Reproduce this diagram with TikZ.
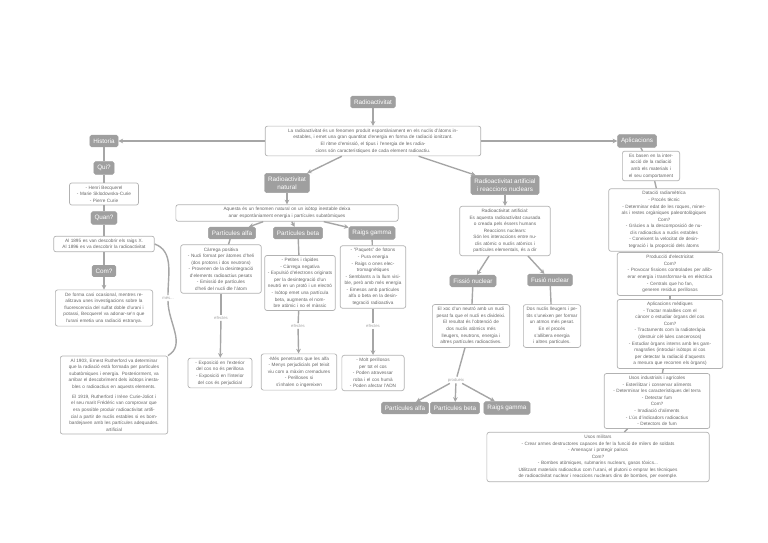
\documentclass[tikz,border=0pt]{standalone}
\usepackage{fontspec}
\setmainfont{Liberation Sans}
\usetikzlibrary{arrows.meta}
\begin{document}
\begin{tikzpicture}[x=0.03cm, y=-0.03cm, align=center,
  concept/.style={fill=gray!75, draw=gray!75, rounded corners=1.5pt, text=white,
    font=\fontsize{5.4}{6.4}\selectfont, inner sep=3pt},
  info/.style={draw=gray!60, fill=white, rounded corners=2pt, line width=.6pt,
    font=\fontsize{4}{5.6}\selectfont, text=gray!80!black, inner sep=2.4pt},
  lbl/.style={font=\fontsize{3.6}{4}\selectfont, text=gray!70, fill=white, inner sep=1pt},
  link/.style={draw=gray!70, line width=1.2pt},
  arr/.style={link, -{Stealth[length=4pt,width=4pt]}}]
\useasboundingbox (0,0) rectangle (768,543);

% Root
\node[concept] (root) at (373,102) {Radioactivitat};
\node[info, text width=6.3cm] (def) at (373,141) {La radioactivitat és un fenomen produït espontàniament en els nuclis d'àtoms
  inestables, i emet una gran quantitat d'energia en forma de radiació ionitzant.\\
  El ritme d'emissió, el tipus i l'energia de les radiacions són característiques de cada element radioactiu.};

% Historia
\node[concept] (hist) at (104,141) {Historia};
\node[concept] (qui) at (104,168) {Qui?};
\node[info, text width=1.9cm] (noms) at (104,194) {- Henri Becquerel\\ - Marie Sklodowska-Curie\\ - Pierre Curie};
\node[concept] (quan) at (104,218) {Quan?};
\node[info, text width=2.85cm] (dates) at (104,244) {Al 1895 es van descobrir els raigs X.\\ Al 1896 es va descobrir la radioactivitat};
\node[concept] (com) at (104,271) {Com?};
\node[info, text width=2.75cm] (casual) at (104,308) {De forma casi ocasional, mentres realitzava unes investigacions sobre la fluorescencia del sulfat doble d'urani i potassi, Becquerel va adonar-se'n que l'urani emetia una radiació estranya.};
\node[info, text width=3.05cm] (rutherford) at (114,395) {Al 1903, Ernest Rutherford va determinar que la radiació està formada per partícules subatòmiques i energia. Posteriorment, va arribar el descobriment dels isòtops inestables o radioactius en aquests elements.\\[3pt]
  El 1919, Rutherford i Irène Curie-Joliot i el seu marit Frédéric van comprovar que era possible produir radioactivitat artificial a partir de nuclis estables si es bombardejaven amb les partícules adequades.\\ artificial};
\node[lbl] (mes) at (168,298) {més...};

% Radioactivitat natural
\node[concept] (nat) at (287,183) {Radioactivitat\\ natural};
\node[info, text width=6.5cm] (natdef) at (287,213) {Aquesta és un fenomen natural on un isòtop inestable deixa anar espontàniament energia i partícules subatòmiques};
\node[concept] (alfa) at (232,233) {Partícules alfa};
\node[concept] (beta) at (298,233) {Partícules beta};
\node[concept] (gamma) at (372,233) {Raigs gamma};
\node[info, text width=2.25cm] (alfat) at (221,269) {Càrrega positiva\\ - Nucli format per àtomes d'heli (dos protons i dos neutrons)\\ - Provenen de la desintegració d'elements radioactius pesats\\ - Emissió de partícules d'heli del nucli dle l'àtom};
\node[info, text width=1.95cm] (betat) at (300,283) {- Petites i ràpides\\ - Càrrega negativa\\ - Expulsió d'electrons originats per la desintegració d'un neutró en un protó i un electró\\ - Isòtop emet una partícula beta, augmenta el nombre atòmic i no el màssic};
\node[info, text width=1.8cm] (gammat) at (373,277) {- "Paquets" de fotons\\ - Pura energia\\ - Raigs o ones electromagnètiques\\ - Semblants a la llum visible, però amb més energia\\ - Emesos amb partícules alfa o beta en la desintegració radioactiva};
\node[lbl] (ef1) at (221,318) {efectes};
\node[lbl] (ef2) at (298,326) {efectes};
\node[lbl] (ef3) at (373,326) {efectes};
\node[info, text width=1.75cm] (alfae) at (220,373) {- Exposició en l'exterior del cos no és perillosa\\ - Exposició en l'interior del cos és perjudicial};
\node[info, text width=2.1cm] (betae) at (299,372) {-Més penetrants que les alfa\\ - Menys perjudicials pel teixit viu com a màxim cremadures\\ - Perilloses si s'inhalen o ingereixen};
\node[info, text width=1.7cm] (gammae) at (373,373) {- Molt perillosos per tot el cos\\ - Poden atravessar roba i el cos humà\\ - Poden afectar l'ADN};

% Radioactivitat artificial
\node[concept] (art) at (505,185) {Radioactivitat artificial\\ i reaccions nuclears};
\node[info, text width=2.55cm] (artdef) at (505,231) {Radioactivitat artificial:\\ Es aquesta radioactivitat causada o creada pels éssers humans\\ Reaccions nuclears:\\ Són les interaccions entre nuclis atòmic o nuclis atòmics i partícules elementals, és a dir};
\node[concept] (fissio) at (473,281) {Fissió nuclear};
\node[concept] (fusio) at (550,280) {Fusió nuclear};
\node[info, text width=2.15cm] (fissiot) at (471,326) {El xoc d'un neutró amb un nucli pesat fa que el nucli es divideixi.\\ El resultat és l'obtenció de dos nuclis atòmics més lleugers, neutrons, energia i altres partícules radioactives.};
\node[info, text width=1.55cm] (fusiot) at (552,326) {Dos nuclis lleugers i petits s'uneixen per formar un atmos més pesat.\\ En el procés s'allibera energia i altres partícules.};
\node[lbl] (prod) at (456,380) {produeix};
\node[concept] (alfa2) at (405,408) {Partícules alfa};
\node[concept] (beta2) at (455,408) {Partícules beta};
\node[concept] (gamma2) at (507,408) {Raigs gamma};

% Aplicacions
\node[concept] (apl) at (637,141) {Aplicacions};
\node[info, text width=1.55cm] (apldef) at (651,166) {Es basen en la interacció de la radiació amb els materials i el seu comportament};
\node[info, text width=3.15cm] (datacio) at (664,220) {Datació radiamètrica\\ - Procés tècnic\\ - Determinar edat de les roques, minerals i restes orgàniques paleontològiques\\ Com?\\ - Gràcies a la descomposició de nuclis radioactius a nuclis estables\\ - Coneixent la velocitat de desintegració i la proporció dels àtoms};
\node[info, text width=3.0cm] (electr) at (670,274) {Producció d'electricitat\\ Com?\\ - Provocar fissions controlades per alliberar energia i transformar-la en elèctrica\\ - Centrals que ho fan, generen residus perillosos};
\node[info, text width=3.0cm] (medic) at (670,334) {Aplicacions mèdiques\\ - Tractar malalties com el càncer o estudiar òrgans del cos\\ Com?\\ - Tractaments com la radioteràpia (destruir cèl·lules cancerosos)\\ - Estudiar òrgans interns amb les gammagrafies (introduir isòtops al cos per detectar la radiació d'aquests a mesura que recorren els òrgans)};
\node[info, text width=3.0cm] (indus) at (657,401) {Usos industrials i agrícoles\\ - Esterilitzar i conservar aliments\\ - Determinar les característiques del terra\\ - Detectar fum\\ Com?\\ - Irradiació d'aliments\\ - L'ús d'indicadors radioactius\\ - Detectors de fum};
\node[info, text width=6.5cm] (milit) at (598,457) {Usos militars\\ - Crear armes destructores capaces de fer la funció de milers de soldats\\ - Amenaçar i protegir països\\ Com?\\ - Bombes atòmiques, submarins nuclears, gasos tòxics...\\ Utilitzant materials radioactius com l'urani, el plutoni o emprar les tècniques de radioactivitat nuclear i reaccions nuclears dins de bombes, per exemple.};

% Connections
\draw[arr] (root) -- (def);
\draw[arr] (def) -- (hist);
\draw[arr] (def) -- (apl);
\draw[arr] (def) -- (nat);
\draw[arr] (def) -- (art);
\foreach \a/\b in {hist/qui, qui/noms, noms/quan, quan/dates, dates/com}
  \draw[link] (\a) -- (\b);
\draw[arr] (com) -- (casual);
\draw[link] (dates.east) to[out=-20, in=90] (mes);
\draw[link] (mes) to[out=-90, in=30] (rutherford.north east);
\draw[arr] (nat) -- (natdef);
\foreach \n in {alfa, beta, gamma} \draw[arr] (natdef) -- (\n);
\foreach \n in {alfa, beta, gamma} \draw[link] (\n) -- (\n t);
\foreach \n/\e in {alfa/ef1, beta/ef2, gamma/ef3} {
  \draw[link] (\n t) -- (\e);
  \draw[arr] (\e) -- (\n e);
}
\draw[arr] (art) -- (artdef);
\draw[arr] (artdef) -- (fissio);
\draw[arr] (artdef) -- (fusio);
\draw[link] (fissio) -- (fissiot);
\draw[link] (fusio) -- (fusiot);
\draw[link] (fissiot) -- (prod);
\foreach \n in {alfa2, beta2, gamma2} \draw[arr] (prod) -- (\n);
\draw[link] (apl) -- (apldef);
\foreach \a/\b in {apldef/datacio, datacio/electr, electr/medic, medic/indus, indus/milit}
  \draw[link] (\a) -- (\b);
\end{tikzpicture}
\end{document}
